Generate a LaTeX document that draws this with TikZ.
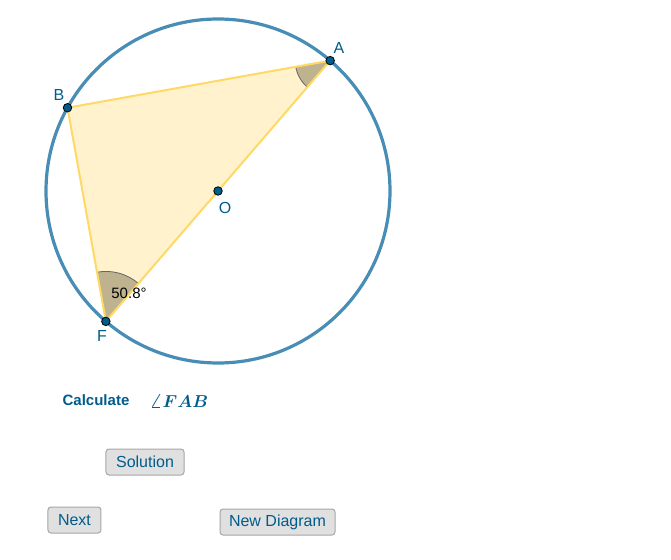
\documentclass[tikz,border=0pt]{standalone}
\usepackage{fontspec}
\setmainfont{Liberation Sans}
\usetikzlibrary{angles}
\definecolor{circblue}{RGB}{72,141,181}
\definecolor{labblue}{RGB}{0,92,138}
\definecolor{triedge}{RGB}{255,217,102}
\definecolor{trifill}{RGB}{255,242,204}
\definecolor{sectfill}{RGB}{190,179,142}
\begin{document}
\begin{tikzpicture}[x = 1pt, y = 1pt,
    pt/.style = {circle, draw = black, fill = labblue, line width = .8pt, inner sep = 0pt, minimum size = 8.5pt},
    lab/.style = {text = labblue, font = \fontsize{16}{19}\selectfont},
    sector/.style = {draw = black!60, fill = sectfill, line width = .8pt},
    button/.style = {draw = black!35, fill = black!12, rounded corners = 3pt, line width = 1pt,
      minimum height = 26pt, inner sep = 0pt, text = labblue, font = \fontsize{16}{19}\selectfont}]
    \useasboundingbox (-218,-368) rectangle (453,191);
    \coordinate (O) at (0,0);
    \coordinate (A) at (49.3:172);
    \coordinate (B) at (151.05:172);
    \coordinate (F) at (229.3:172);
    % triangle and angle marks
    \fill [trifill] (A) -- (B) -- (F) -- cycle;
    \pic [sector, angle radius = 50pt] {angle = A--F--B};
    \pic [sector, angle radius = 35pt] {angle = B--A--F};
    \draw [triedge, line width = 2pt, line join = round] (A) -- (B) -- (F) -- cycle;
    \draw [circblue, line width = 3.2pt] (O) circle (172);
    \node [pt] (o) at (O) {};
    \node [pt] (a) at (A) {};
    \node [pt] (b) at (B) {};
    \node [pt] (f) at (F) {};
    \node [lab] at (121,143) {A};
    \node [lab] at (-159,96) {B};
    \node [lab] at (7,-17) {O};
    \node [lab] at (-116,-145) {F};
    \node [font = \fontsize{15}{18}\selectfont] (ang) at (-89,-102) {50.8°};
    % question and buttons
    \node [text = labblue, font = \bfseries\fontsize{15}{18}\selectfont] (calc) at (-122,-209) {Calculate};
    \node [text = labblue, font = \boldmath\fontsize{19}{22}\selectfont] (quest) at (-39,-210) {$\angle F A B$};
    \node [button, minimum width = 78pt] (sol) at (-73,-271) {Solution};
    \node [button, minimum width = 53pt] (next) at (-143.5,-329) {Next};
    \node [button, minimum width = 115pt] (new) at (59.5,-331) {New Diagram};
  \end{tikzpicture}
\end{document}
